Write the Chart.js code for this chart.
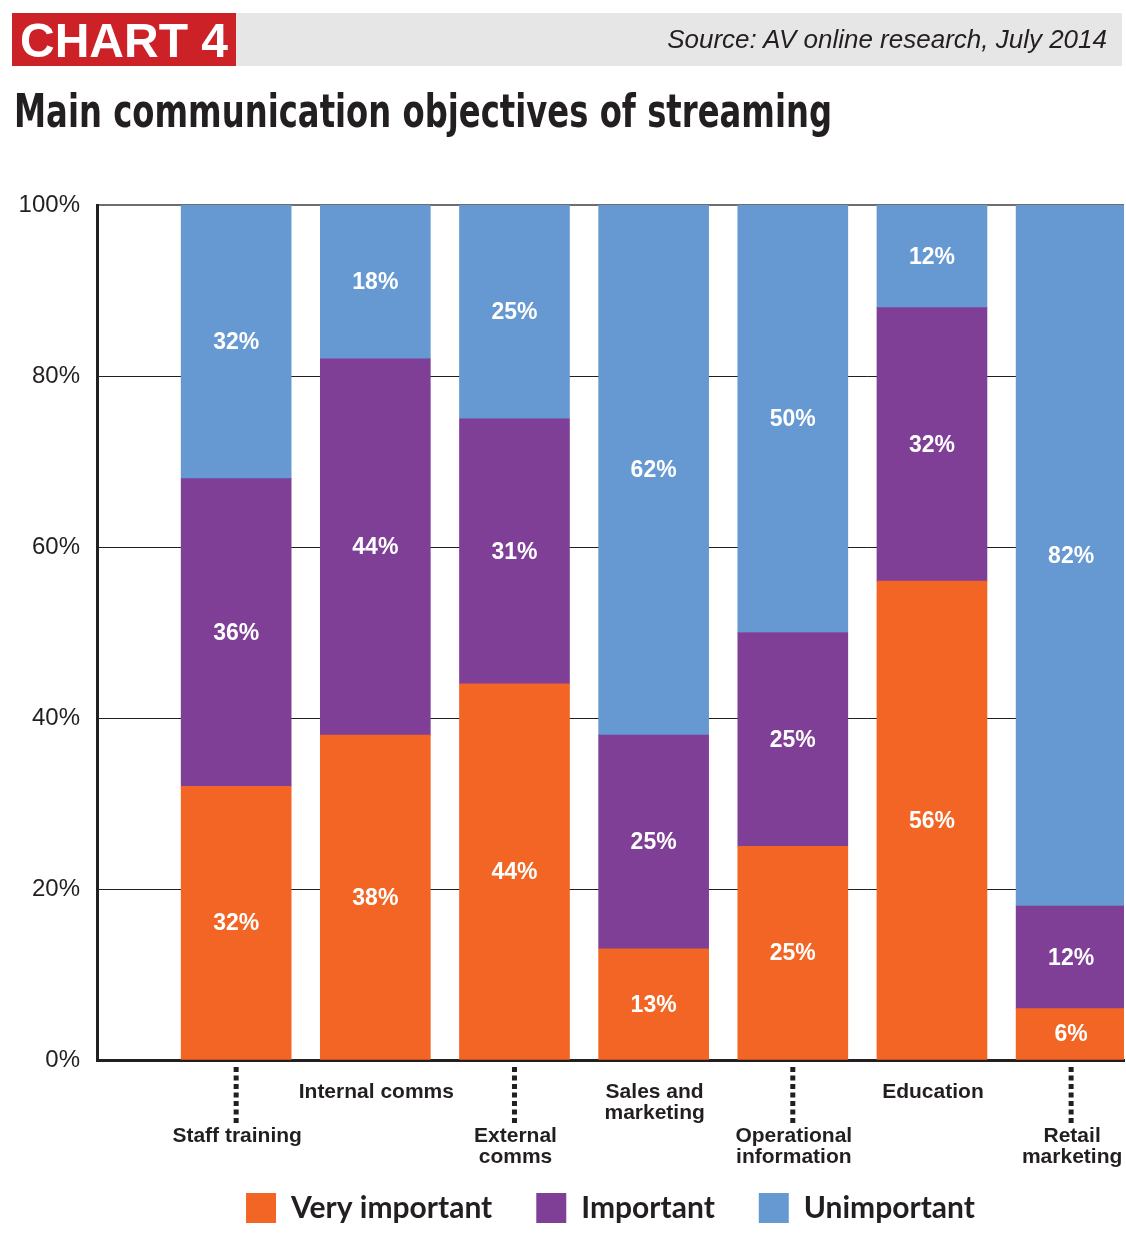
<!DOCTYPE html>
<html lang="en">
<head>
    <meta charset="UTF-8">
    <title>Main communication objectives of streaming</title>
    <script src="https://cdn.jsdelivr.net/npm/chart.js"></script>
    <style>
        body {
            margin: 0;
            background: #fff;
        }
        .page {
            position: relative;
            width: 1126px;
            height: 1236px;
        }
        .chart-box {
            position: absolute;
            left: 0;
            top: 0;
            width: 1126px;
            height: 1236px;
        }
        .band {
            position: absolute;
            left: 12px;
            top: 13px;
            width: 1110px;
            height: 53px;
            background: #e6e6e7;
        }
        .tag {
            position: absolute;
            left: 12px;
            top: 13px;
            width: 224px;
            height: 53px;
            background: #cd2128;
            color: #fff;
            font: bold 48px "Liberation Sans", Arial, sans-serif;
            line-height: 56px;
            text-align: center;
        }
        .source {
            position: absolute;
            right: 19px;
            top: 24px;
            color: #231f20;
            font: italic 26px "Liberation Sans", Arial, sans-serif;
        }
        .title {
            position: absolute;
            left: 14px;
            top: 84px;
            color: #231f20;
            font: bold 46px "DejaVu Sans", sans-serif;
            white-space: nowrap;
            transform-origin: 0 0;
        }
    </style>
</head>
<body>
<div class="page">
    <div class="chart-box"><canvas id="chart"></canvas></div>
    <div class="band"></div>
    <div class="tag">CHART 4</div>
    <div class="source">Source: AV online research, July 2014</div>
    <div class="title" id="title">Main communication objectives of streaming</div>
</div>

<script>
    // categories, split into the lines printed under the axis
    const categories = [
        ['Staff training'],
        ['Internal comms'],
        ['External', 'comms'],
        ['Sales and', 'marketing'],
        ['Operational', 'information'],
        ['Education'],
        ['Retail', 'marketing']
    ];
    // labels sit low (with a dotted leader) on every other category
    const lowLabel = [true, false, true, false, true, false, true];

    const veryImportant = [32, 38, 44, 13, 25, 56, 6];
    const important = [36, 44, 31, 25, 25, 32, 12];
    const unimportant = [32, 18, 25, 62, 50, 12, 82];

    const yTicks = [0, 20, 40, 60, 80, 100];

    const seriesNames = ['Very important', 'Important', 'Unimportant'];
    const seriesColors = ['#f26524', '#7f3f97', '#6699d1'];

    // the title is set in a condensed face in the original
    const titleEl = document.getElementById('title');
    titleEl.style.transform = 'scaleX(' + (818 / titleEl.offsetWidth) + ')';

    function points(values) {
        return values.map((v, i) => ({ x: i + 1, y: v }));
    }

    // white % labels in the middle of each segment
    const segmentLabels = {
        id: 'segmentLabels',
        afterDatasetsDraw(chart) {
            const ctx = chart.ctx;
            ctx.save();
            ctx.fillStyle = '#fff';
            ctx.font = 'bold 23px "Liberation Sans", Arial, sans-serif';
            ctx.textAlign = 'center';
            ctx.textBaseline = 'middle';
            chart.data.datasets.forEach((ds, d) => {
                chart.getDatasetMeta(d).data.forEach((bar, i) => {
                    const p = bar.getProps(['x', 'y', 'base'], true);
                    ctx.fillText(ds.data[i].y + '%', p.x, (p.y + p.base) / 2 + 1);
                });
            });
            ctx.restore();
        }
    };

    // category names under the axis, alternating high / low
    const categoryLabels = {
        id: 'categoryLabels',
        afterDraw(chart) {
            const ctx = chart.ctx;
            const x = chart.scales.x;
            const bottom = chart.chartArea.bottom;
            ctx.save();
            ctx.fillStyle = '#231f20';
            ctx.strokeStyle = '#231f20';
            ctx.font = 'bold 21px "Liberation Sans", Arial, sans-serif';
            ctx.textAlign = 'center';
            ctx.textBaseline = 'middle';
            categories.forEach((lines, i) => {
                const cx = x.getPixelForValue(i + 1);
                let y0 = bottom + 32;
                if (lowLabel[i]) {
                    ctx.lineWidth = 5;
                    ctx.setLineDash([5, 3.5]);
                    ctx.beginPath();
                    ctx.moveTo(cx, bottom + 7);
                    ctx.lineTo(cx, bottom + 63);
                    ctx.stroke();
                    y0 = bottom + 76;
                }
                lines.forEach((t, k) => ctx.fillText(t, cx + 1, y0 + k * 21));
            });
            ctx.restore();
        }
    };

    new Chart(document.getElementById('chart'), {
        type: 'bar',
        data: {
            datasets: [
                { label: seriesNames[0], data: points(veryImportant), backgroundColor: seriesColors[0] },
                { label: seriesNames[1], data: points(important), backgroundColor: seriesColors[1] },
                { label: seriesNames[2], data: points(unimportant), backgroundColor: seriesColors[2] }
            ]
        },
        options: {
            responsive: true,
            maintainAspectRatio: false,
            animation: false,
            layout: {
                padding: { top: 205, right: 2, bottom: 3, left: 0 }
            },
            datasets: {
                bar: { barThickness: 110 }
            },
            scales: {
                x: {
                    type: 'linear',
                    stacked: true,
                    offset: false,
                    min: 0,
                    max: 7.38,
                    grid: { display: false },
                    border: { display: true, color: '#231f20', width: 3 },
                    ticks: { display: false },
                    afterFit(scale) { scale.height = 89; }
                },
                y: {
                    stacked: true,
                    min: 0,
                    max: 100,
                    afterBuildTicks(scale) {
                        scale.ticks = yTicks.map(v => ({ value: v }));
                    },
                    afterFit(scale) { scale.width = 97; },
                    grid: {
                        drawTicks: false,
                        color: c => c.tick && c.tick.value === 100 ? '#6d6e71' : '#231f20',
                        lineWidth: c => c.tick && c.tick.value === 100 ? 2 : 1
                    },
                    border: { display: true, color: '#231f20', width: 3 },
                    ticks: {
                        padding: 17,
                        color: '#231f20',
                        font: { family: '"Liberation Sans", Arial, sans-serif', size: 24 },
                        callback: v => v + '%'
                    }
                }
            },
            plugins: {
                legend: {
                    position: 'bottom',
                    fullSize: false,
                    labels: {
                        boxWidth: 30,
                        boxHeight: 30,
                        padding: 44,
                        color: '#231f20',
                        font: { family: 'Lato, "DejaVu Sans", sans-serif', size: 30, weight: 'bold' }
                    }
                },
                tooltip: { enabled: false }
            }
        },
        plugins: [segmentLabels, categoryLabels]
    });
</script>
</body>
</html>
